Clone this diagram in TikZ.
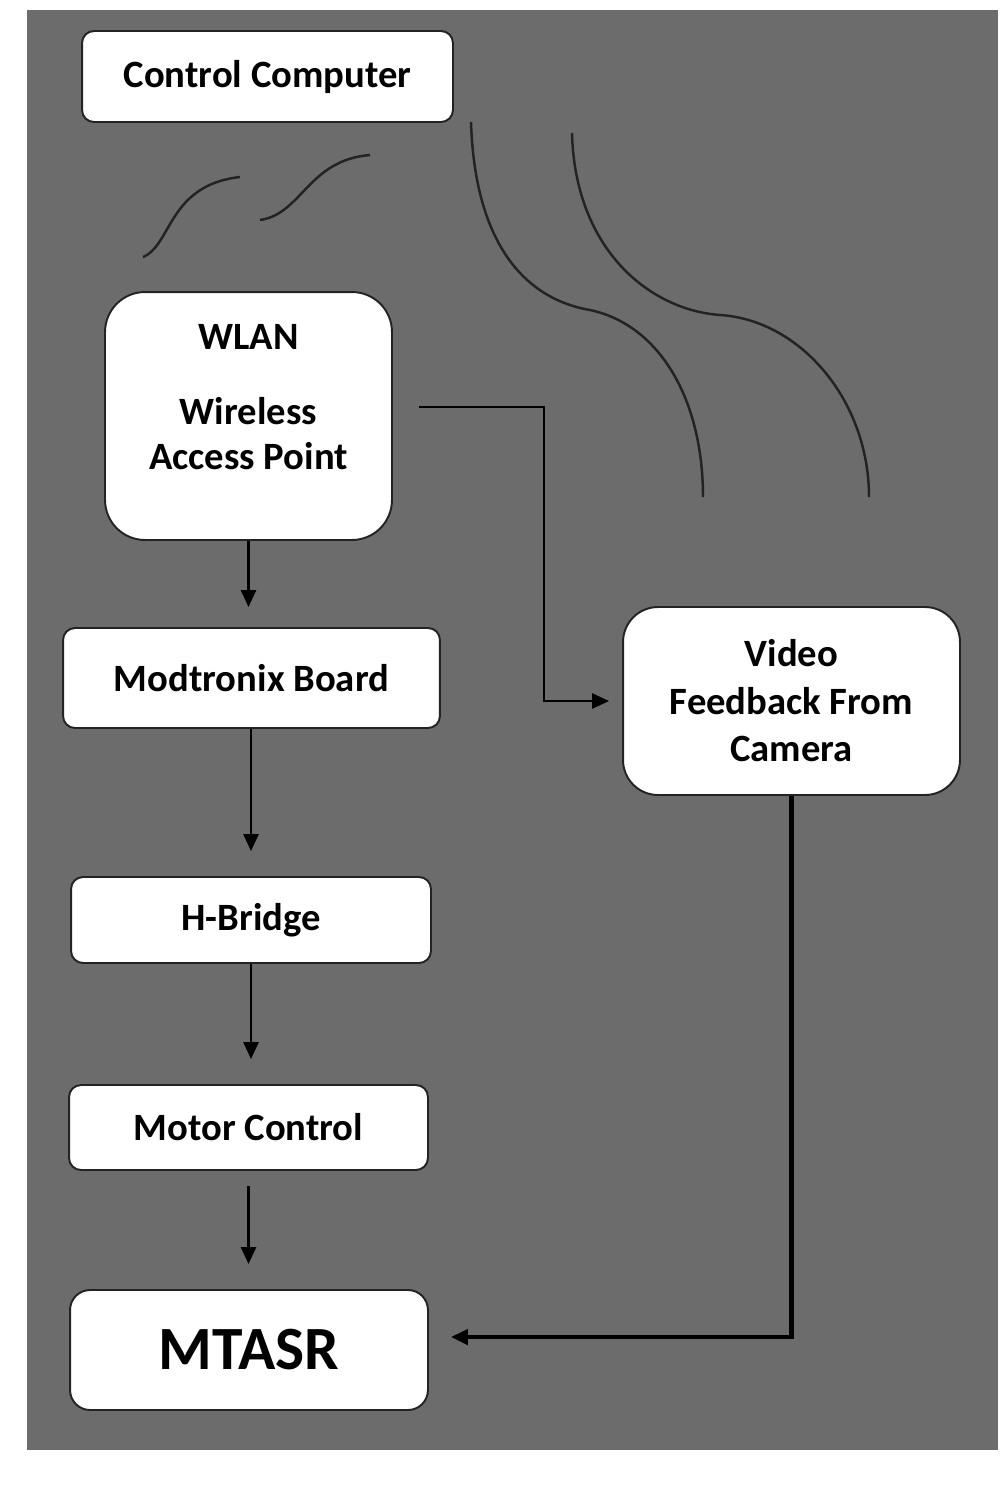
\documentclass[tikz,border=0pt]{standalone}
\usepackage{fontspec}
\setmainfont{Carlito}
\usetikzlibrary{arrows.meta}

\definecolor{bggrey}{RGB}{108,108,108}
\definecolor{edge}{RGB}{35,35,35}

\tikzset{
  block/.style={draw=edge, line width=1.1pt, fill=white, rounded corners=0.24cm,
    inner sep=0pt, align=center, font=\bfseries\fontsize{22}{27}\selectfont},
  flow/.style={line width=1.6pt, -{Triangle[length=3.4mm, width=3mm]}},
  wave/.style={line width=1.4pt, draw=edge},
}

\begin{document}
\begin{tikzpicture}[x=0.02cm, y=-0.02cm]
  \useasboundingbox (0,0) rectangle (1005,1492);
  \fill[bggrey] (27,10) rectangle (998,1450);

  % boxes
  \node[block, minimum width=7.42cm, minimum height=1.82cm] (comp) at (267.5,76.5)
    {Control Computer};
  \node[block, rounded corners=0.8cm, minimum width=5.74cm, minimum height=4.96cm]
    (wlan) at (248.5,416) {};
  \node[align=center, font=\bfseries\fontsize{22}{25.5}\selectfont] (wlantext)
    at (248.5,397) {WLAN\\[17pt]Wireless\\Access Point};
  \node[block, minimum width=7.54cm, minimum height=2cm] (modt) at (251.5,678)
    {Modtronix Board};
  \node[block, minimum width=7.2cm, minimum height=1.72cm] (hbr) at (251,920)
    {H-Bridge};
  \node[block, minimum width=7.18cm, minimum height=1.7cm] (motor) at (248.5,1127.5)
    {Motor Control};
  \node[block, rounded corners=0.4cm, minimum width=7.16cm, minimum height=2.4cm,
    font=\bfseries\fontsize{35}{40}\selectfont] (mtasr) at (249,1350) {MTASR};
  \node[block, rounded corners=0.7cm, minimum width=6.74cm, minimum height=3.76cm]
    (video) at (791.5,701) {Video\\Feedback From\\Camera};

  % wireless links
  \draw[wave] (143,257) .. controls (172,245) and (168,185) .. (240,177);
  \draw[wave] (260,220) .. controls (302,214) and (308,160) .. (370,155);
  \draw[wave] (471,122) .. controls (475,250) and (530,300) .. (590,310)
    .. controls (660,325) and (703,400) .. (703,497);
  \draw[wave] (572,133) .. controls (575,250) and (650,310) .. (720,315)
    .. controls (800,320) and (869,400) .. (869,497);

  % arrows
  \draw[flow, shorten >=0.4cm] (wlan.south) -- (wlan.south |- modt.north);
  \draw[flow, shorten >=0.5cm] (modt.south -| hbr.north) -- (hbr.north);
  \draw[flow, shorten >=0.5cm] (hbr.south) -- (hbr.south |- motor.north);
  \draw[flow, shorten <=0.3cm, shorten >=0.5cm] (motor.south) -- (motor.south |- mtasr.north);
  \draw[flow, shorten <=0.52cm, shorten >=0.26cm]
    ([yshift=0.18cm]wlan.east) -- ++(151,0) |- (video.west);
  \draw[flow, line width=2.6pt, shorten >=0.44cm]
    (video.south) |- ([yshift=0.26cm]mtasr.east);
\end{tikzpicture}
\end{document}
